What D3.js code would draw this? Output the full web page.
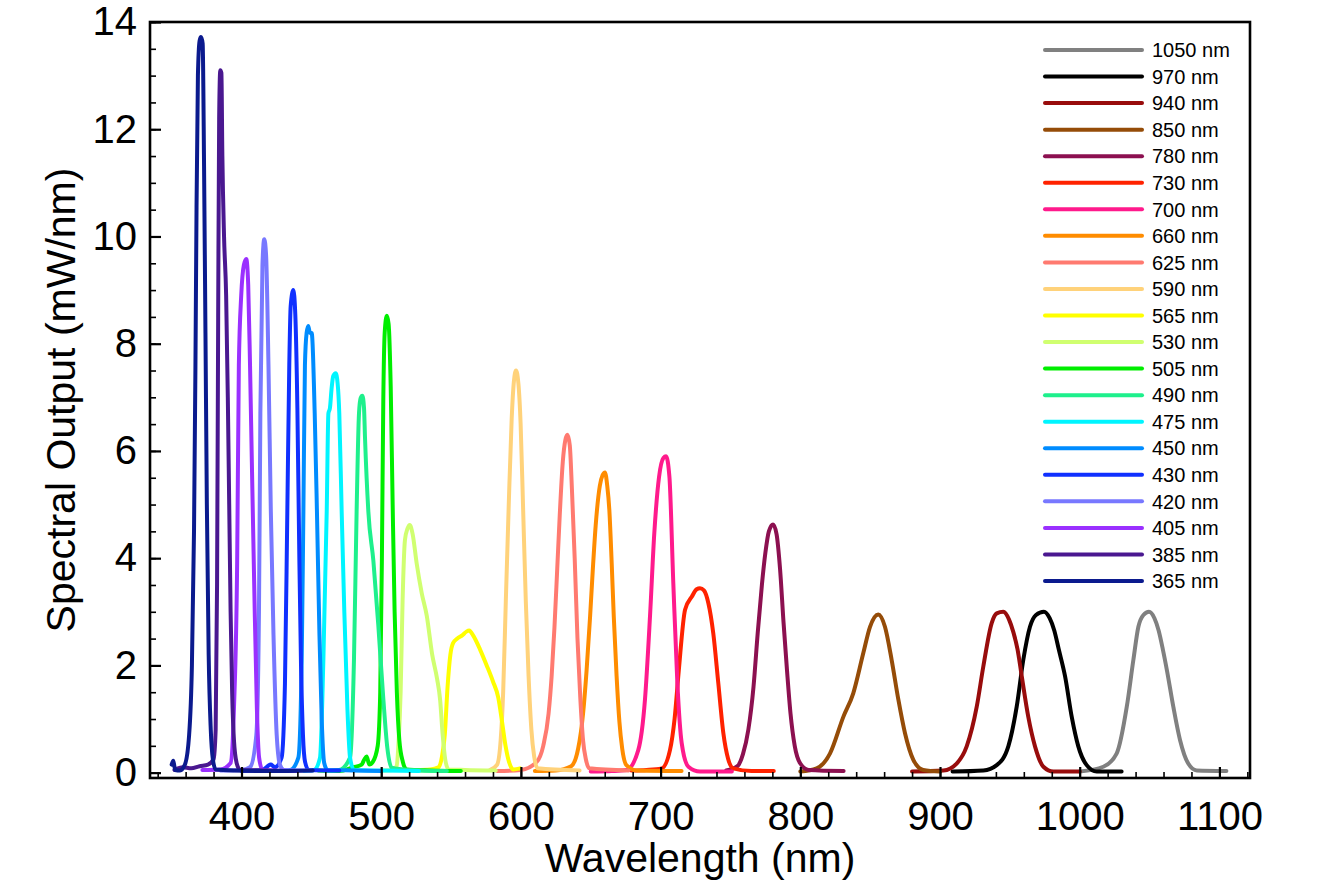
<!DOCTYPE html>
<html>
<head>
<meta charset="utf-8">
<script src="https://cdn.jsdelivr.net/npm/d3@7"></script>
<style>
  body { margin: 0; background: #fff; }
  svg text { font-family: "Liberation Sans", Arial, Helvetica, sans-serif; fill: #000; }
</style>
</head>
<body>
<script>
// spectra, [wavelength nm, mW/nm]
var nm365 = [[350,0.15],[351.2,0.22],[352.5,0.05],[356,0.04],[359.5,0.15],[362.5,0.7],[364.5,2.0],[366,4.5],[367,7.5],[367.8,10.5],[368.8,13.0],[370,13.65],[371,13.72],[372.2,13.6],[373.2,11.3],[374.2,8.2],[375.2,5.0],[376.5,2.2],[378,0.8],[379.5,0.25],[381.5,0.06],[395,0.04],[420,0.03],[451,0.04]];
var nm385 = [[352,0.05],[358,0.1],[364,0.08],[370,0.12],[376,0.15],[380,0.25],[381.5,0.8],[382.5,3.5],[383.3,8.5],[384,12.2],[384.8,13.1],[385.6,13.05],[386.3,11.5],[387.5,10.0],[389,8.9],[390.2,7.0],[391.2,5.0],[392.2,3.0],[393.3,1.5],[394.6,0.6],[396.5,0.18],[399,0.05],[415,0.04],[432,0.03]];
var nm405 = [[372,0.05],[385,0.06],[392.2,0.18],[394.6,1.2],[396.9,3.95],[398.1,7.6],[399.8,8.9],[401.7,9.47],[403.4,9.58],[404.8,9.1],[406.1,7.6],[407.4,5.8],[409.1,3.5],[411,1.2],[412.6,0.28],[415,0.05],[440,0.03]];
var nm420 = [[385,0.04],[400,0.05],[406.1,0.1],[410.6,0.7],[412.5,3.0],[413.5,6.7],[415,9.47],[416.3,9.95],[417.6,9.65],[419.3,7.6],[421,4.87],[422.9,2.57],[425.2,0.7],[427.6,0.14],[430.5,0.05],[450,0.04]];
var nm430 = [[400,0.03],[415,0.05],[421,0.15],[424,0.1],[428.7,0.28],[431.1,1.66],[432.8,4.87],[434.2,7.6],[435.2,8.7],[437.1,9.0],[438.5,8.55],[440,6.8],[441.4,4.0],[442.6,2.0],[444,0.7],[445.5,0.2],[448,0.05],[470,0.04]];
var nm450 = [[425,0.03],[435,0.05],[440.7,0.28],[443.1,2.1],[444.3,4.87],[445.4,7.6],[446.6,8.2],[447.8,8.33],[449,8.2],[450.2,8.2],[452.4,6.7],[454,4.87],[455.8,2.57],[457.4,1.0],[459.2,0.18],[461.5,0.05],[480,0.04],[500,0.03]];
var nm475 = [[445,0.03],[452,0.05],[456.2,0.28],[458.6,2.1],[461,4.87],[462.2,6.7],[463.3,6.8],[464.5,7.17],[465.7,7.4],[467.4,7.45],[468.8,7.26],[470,6.7],[471.7,4.87],[473.6,3.0],[475.8,1.2],[477.7,0.28],[480.5,0.05],[500,0.04],[527,0.03]];
var nm490 = [[460,0.03],[470,0.05],[477.7,0.28],[480.5,2.1],[482.4,4.87],[484.1,6.7],[485.3,6.99],[486.5,7.03],[487.7,6.8],[488.4,6.25],[490.8,4.87],[494.4,3.95],[497.9,2.76],[501.5,1.38],[504.4,0.46],[507.5,0.09],[520,0.05],[547,0.03]];
var nm505 = [[455,0.04],[470,0.03],[480,0.1],[486,0.15],[488,0.25],[489.6,0.3],[491.5,0.15],[494,0.2],[497.5,0.5],[499.3,1.5],[500.5,4.0],[501.5,6.95],[502.5,8.2],[504,8.52],[505.3,8.37],[506.8,7.2],[508.2,5.0],[509.6,3.0],[511.2,1.5],[513,0.6],[515.5,0.2],[518,0.06],[535,0.04],[557,0.03]];
var nm530 = [[500,0.04],[508,0.05],[511,0.12],[512.5,0.6],[513.9,1.5],[515.3,3.2],[517,4.34],[518.8,4.55],[520.4,4.62],[522.5,4.45],[525.4,3.9],[529,3.35],[532.6,2.93],[536.5,2.2],[540,1.75],[542.2,1.35],[543.9,0.74],[545.8,0.25],[548.2,0.06],[560,0.05],[582,0.04]];
var nm565 = [[525,0.05],[535,0.06],[541,0.1],[543.5,0.3],[545.5,0.7],[547.5,1.6],[549.5,2.2],[551.5,2.42],[554.5,2.5],[558,2.56],[561,2.63],[563,2.65],[566,2.55],[570.7,2.3],[575.5,2.0],[580,1.7],[583.8,1.4],[586.5,0.95],[589,0.5],[591.5,0.2],[594.6,0.06],[599.4,0.08]];
var nm590 = [[578,0.05],[583,0.15],[585.5,0.6],[587.3,1.5],[589.2,3.2],[591.3,5.0],[593.4,6.6],[595,7.3],[596.5,7.5],[598.2,7.26],[599.8,6.5],[601.5,5.0],[603.5,3.2],[605.5,1.8],[607.5,0.8],[609.5,0.3],[612,0.08],[642,0.04]];
var nm625 = [[583,0.03],[600,0.05],[611.3,0.2],[616,0.5],[619.8,1.1],[622,1.8],[624,2.7],[626,3.8],[627.8,4.8],[630,5.8],[631.8,6.2],[633.3,6.3],[635,6.1],[636.5,5.3],[638.5,4.0],[640.5,2.5],[642.5,1.4],[644.5,0.6],[646.5,0.25],[649,0.08],[677,0.04]];
var nm660 = [[610,0.03],[625,0.04],[636,0.12],[641,0.45],[644.5,1.1],[647,1.9],[649.5,2.9],[651.5,3.8],[653.5,4.6],[656.5,5.35],[658.5,5.55],[660.2,5.6],[661.8,5.35],[663.3,4.9],[665,3.9],[666.5,2.9],[668.5,1.8],[670.5,0.95],[672.5,0.45],[675.5,0.14],[683,0.04],[715,0.03]];
var nm700 = [[650,0.02],[665,0.03],[675.7,0.05],[684,0.42],[688.8,1.36],[692.4,2.91],[695.5,4.47],[698.9,5.52],[702,5.87],[703.9,5.9],[706.3,5.52],[709.1,3.53],[712,1.67],[715.1,0.55],[719.9,0.11],[728.2,0.02],[751,0.02]];
var nm730 = [[679,0.04],[690,0.05],[700.8,0.08],[706.7,0.42],[710,1.0],[713,1.9],[717.5,3.04],[722.3,3.28],[725.8,3.42],[728.2,3.44],[731,3.4],[734.2,3.16],[737.7,2.6],[741.3,1.67],[744.9,0.74],[748.3,0.26],[752,0.08],[765,0.03],[781,0.03]];
var nm780 = [[747,0.04],[755,0.12],[759,0.35],[762.8,0.8],[766.5,1.6],[769.5,2.6],[772.5,3.5],[775,4.1],[777.5,4.5],[780.5,4.63],[783,4.45],[785.5,3.8],[788,2.8],[790.5,1.9],[793,1.1],[796,0.5],[800,0.17],[806,0.05],[831,0.03]];
var nm850 = [[800,0.02],[811.7,0.08],[821.3,0.36],[830.8,1.04],[837.9,1.48],[845.1,2.23],[849.9,2.72],[855.8,2.95],[860.6,2.72],[865.4,2.1],[870.2,1.36],[874.9,0.74],[880.9,0.24],[888,0.05],[900,0.02]];
var nm940 = [[880,0.02],[902.4,0.04],[911.9,0.17],[919.1,0.49],[926.3,1.23],[931,1.98],[937,2.79],[940.6,2.97],[945.3,3.0],[949.5,2.85],[952.5,2.62],[955.5,2.3],[958.5,1.8],[963.2,1.04],[968,0.49],[974,0.11],[981.1,0.02],[1000,0.02]];
var nm970 = [[909,0.02],[931,0.04],[940.6,0.14],[948.9,0.49],[954.9,1.23],[959.6,2.1],[964.4,2.72],[968.7,2.94],[974.4,3.0],[978.5,2.88],[981.8,2.65],[985,2.3],[989.5,1.8],[994.3,1.04],[999,0.49],[1005,0.14],[1012.2,0.02],[1030,0.02]];
var nm1050 = [[1000,0.02],[1016.9,0.11],[1026.5,0.36],[1033.7,1.23],[1038.4,2.1],[1042,2.72],[1045.6,2.94],[1049.6,3.0],[1053.5,2.88],[1056.5,2.65],[1059.5,2.3],[1062.5,1.9],[1067,1.23],[1071.8,0.61],[1077.7,0.17],[1083.8,0.04],[1105,0.03]];

// legend order (top to bottom)
var labels = ["1050 nm","970 nm","940 nm","850 nm","780 nm","730 nm","700 nm","660 nm","625 nm","590 nm","565 nm","530 nm","505 nm","490 nm","475 nm","450 nm","430 nm","420 nm","405 nm","385 nm","365 nm"];
var spectra = [nm1050,nm970,nm940,nm850,nm780,nm730,nm700,nm660,nm625,nm590,nm565,nm530,nm505,nm490,nm475,nm450,nm430,nm420,nm405,nm385,nm365];
var colors = ["#808080","#000000","#980c0c","#954c08","#8c1050","#ff2200","#ff1a8c","#ff8c00","#ff7a70","#ffd27a","#ffff00","#d0ff70","#00ee00","#1ef08c","#00f5ff","#008cff","#1030ff","#7878ff","#9a30ff","#4a1890","#0b1a8e"];

var xMajor = [400,500,600,700,800,900,1000,1100];
var xMinor = d3.range(340, 1121, 20);
var yMajor = [0,2,4,6,8,10,12,14];
var yMinor = d3.range(0, 14.01, 0.5);

var W = 1322, H = 890;
var plotL = 150, plotT = 22, plotR = 1250, plotB = 778;

var svg = d3.select("body").append("svg")
    .attr("width", W)
    .attr("height", H);

var x = d3.scaleLinear().domain([334.5, 1121.9]).range([plotL, plotR]);
var y = d3.scaleLinear().domain([-0.1, 14]).range([plotB, plotT]);

// curves, 1050 first so 365 ends on top
var line = d3.line()
    .x(function(d) { return x(d[0]); })
    .y(function(d) { return y(d[1]); })
    .curve(d3.curveMonotoneX);

svg.append("g").attr("class", "curves")
    .selectAll("path")
    .data(spectra)
    .enter().append("path")
    .attr("d", line)
    .attr("fill", "none")
    .attr("stroke", function(d, i) { return colors[i]; })
    .attr("stroke-width", 4)
    .attr("stroke-linejoin", "round")
    .attr("stroke-linecap", "round");

// x axis: minor then major ticks, pointing into the plot
var gx = svg.append("g").attr("transform", "translate(0," + plotB + ")");
gx.append("g")
    .call(d3.axisBottom(x).tickValues(xMinor).tickSize(-6).tickFormat(""))
    .call(function(g) { g.select(".domain").remove(); })
    .selectAll("line").attr("stroke-width", 1.6);
gx.append("g")
    .call(d3.axisBottom(x).tickValues(xMajor).tickSize(-11).tickPadding(24).tickFormat(d3.format("d")))
    .call(function(g) { g.select(".domain").remove(); })
    .call(function(g) {
        g.selectAll("line").attr("stroke-width", 2.2);
        g.selectAll("text").attr("font-size", 40).attr("font-family", null);
    });

// y axis
var gy = svg.append("g").attr("transform", "translate(" + plotL + ",0)");
gy.append("g")
    .call(d3.axisLeft(y).tickValues(yMinor).tickSize(-6).tickFormat(""))
    .call(function(g) { g.select(".domain").remove(); })
    .selectAll("line").attr("stroke-width", 1.6);
gy.append("g")
    .call(d3.axisLeft(y).tickValues(yMajor).tickSize(-11).tickPadding(13).tickFormat(d3.format("d")))
    .call(function(g) { g.select(".domain").remove(); })
    .call(function(g) {
        g.selectAll("line").attr("stroke-width", 2.2);
        g.selectAll("text").attr("font-size", 40).attr("font-family", null);
    });

// frame
svg.append("rect")
    .attr("x", plotL).attr("y", plotT)
    .attr("width", plotR - plotL).attr("height", plotB - plotT)
    .attr("fill", "none")
    .attr("stroke", "#000")
    .attr("stroke-width", 2.6);

// axis titles
svg.append("text")
    .attr("x", (plotL + plotR) / 2).attr("y", 872)
    .attr("text-anchor", "middle")
    .attr("font-size", 41)
    .text("Wavelength (nm)");

svg.append("text")
    .attr("transform", "translate(75," + (plotT + plotB) / 2 + ") rotate(-90)")
    .attr("text-anchor", "middle")
    .attr("font-size", 41)
    .text("Spectral Output (mW/nm)");

// legend
var legend = svg.append("g").attr("class", "legend");
var rows = legend.selectAll("g")
    .data(labels)
    .enter().append("g")
    .attr("transform", function(d, i) { return "translate(0," + (50 + i * 26.55) + ")"; });
rows.append("line")
    .attr("x1", 1045).attr("x2", 1142)
    .attr("y1", 0).attr("y2", 0)
    .attr("stroke", function(d, i) { return colors[i]; })
    .attr("stroke-width", 4)
    .attr("stroke-linecap", "round");
rows.append("text")
    .attr("x", 1152).attr("y", 0)
    .attr("dy", "0.36em")
    .attr("font-size", 20)
    .text(function(d) { return d; });
</script>
</body>
</html>
